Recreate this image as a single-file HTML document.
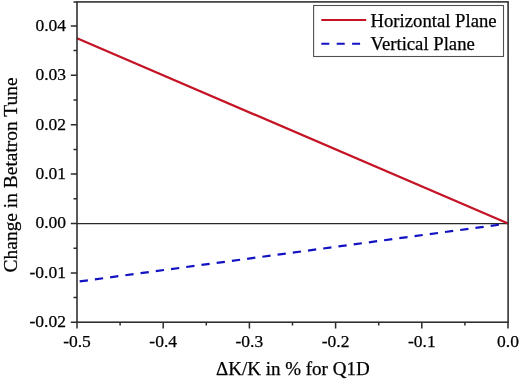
<!DOCTYPE html>
<html><head><meta charset="utf-8"><style>
html,body{margin:0;padding:0;background:#fff;}
svg{display:block;}
text{font-family:"Liberation Serif","Times New Roman",serif;font-size:17.5px;fill:#000;stroke:#000;stroke-width:0.25px;}
.lg{font-size:18.7px;}
.ti{font-size:19px;}
.yt{font-size:19.45px;}
</style></head><body>
<svg width="520" height="379" viewBox="0 0 520 379">
<line x1="77" y1="223.7" x2="508.1" y2="223.7" stroke="#2a2a2a" stroke-width="1.3"/>
<line x1="77" y1="38.2" x2="508.1" y2="223.5" stroke="#c41426" stroke-width="2.3"/>
<line x1="77" y1="281.79" x2="504.0" y2="224.05" stroke="#1212c4" stroke-width="2.2" stroke-dasharray="8.3 7.06" stroke-dashoffset="-2.7"/>
<rect x="77" y="1.9" width="431.1" height="320.3" fill="none" stroke="#2b2b2b" stroke-width="1.55"/>
<text x="66" y="327.1" text-anchor="end">-0.02</text>
<text x="66" y="277.7" text-anchor="end">-0.01</text>
<text x="66" y="228.3" text-anchor="end">0.00</text>
<text x="66" y="178.9" text-anchor="end">0.01</text>
<text x="66" y="129.5" text-anchor="end">0.02</text>
<text x="66" y="80.1" text-anchor="end">0.03</text>
<text x="66" y="30.7" text-anchor="end">0.04</text>
<text x="77.0" y="346.8" text-anchor="middle">-0.5</text>
<text x="163.2" y="346.8" text-anchor="middle">-0.4</text>
<text x="249.4" y="346.8" text-anchor="middle">-0.3</text>
<text x="335.6" y="346.8" text-anchor="middle">-0.2</text>
<text x="421.8" y="346.8" text-anchor="middle">-0.1</text>
<text x="508.0" y="346.8" text-anchor="middle">0.0</text>
<path d="M70.8,322.3H77 M70.8,272.9H77 M70.8,223.5H77 M70.8,174.1H77 M70.8,124.7H77 M70.8,75.3H77 M70.8,25.9H77 M73.5,297.6H77 M73.5,248.2H77 M73.5,198.8H77 M73.5,149.4H77 M73.5,100.0H77 M73.5,50.6H77 M73.5,1.9H77 M77.0,322.2V328.4 M163.2,322.2V328.4 M249.4,322.2V328.4 M335.6,322.2V328.4 M421.8,322.2V328.4 M508.0,322.2V328.4 M120.1,322.2V325.4 M206.3,322.2V325.4 M292.5,322.2V325.4 M378.7,322.2V325.4 M464.9,322.2V325.4" stroke="#2b2b2b" stroke-width="1.5" fill="none"/>
<rect x="313.6" y="5.5" width="189.9" height="51" fill="#fff" stroke="#505050" stroke-width="1.1"/>
<line x1="321.3" y1="20.0" x2="366.2" y2="20.0" stroke="#c41426" stroke-width="2.2"/>
<line x1="321.3" y1="43.8" x2="366.2" y2="43.8" stroke="#1212c4" stroke-width="2.1" stroke-dasharray="8 7.4"/>
<text x="370.5" y="27.1" class="lg">Horizontal Plane</text>
<text x="370.5" y="50.2" class="lg">Vertical Plane</text>
<text x="216" y="374.5" class="ti">&#916;K/K in % for Q1D</text>
<text transform="translate(16.6,272.4) rotate(-90)" x="0" y="0" class="yt">Change in Betatron Tune</text>
</svg>
</body></html>
